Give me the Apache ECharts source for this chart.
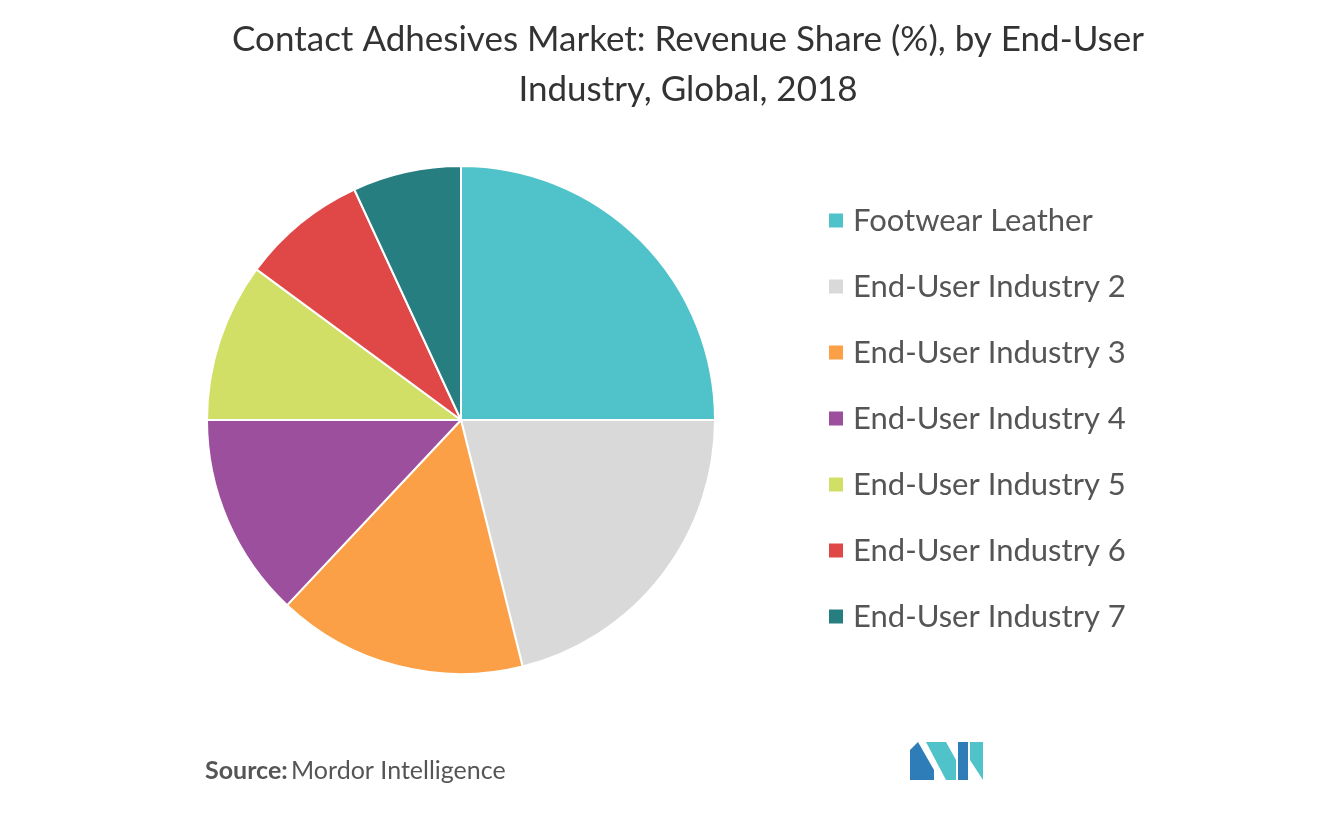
<!DOCTYPE html>
<html><head><meta charset="utf-8">
<script src="https://cdn.jsdelivr.net/npm/echarts@6/dist/echarts.min.js"></script>
<style>html,body{margin:0;background:#fff}#c{width:1322px;height:817px}</style>
</head><body><div id="c"></div>
<script>
const categories = ["Footwear Leather","End-User Industry 2","End-User Industry 3","End-User Industry 4","End-User Industry 5","End-User Industry 6","End-User Industry 7"];
const shares = [25.0, 21.1, 15.9, 13.0, 10.1, 8.0, 6.9];
const colors = ["#4FC3C9","#D9D9D9","#FBA046","#9B4F9D","#D1DF67","#E04848","#267E80"];
const chart = echarts.init(document.getElementById('c'));
chart.setOption({
  animation:false,
  color: colors,
  title:{text:"Contact Adhesives Market: Revenue Share (%), by End-User\nIndustry, Global, 2018",left:683,textAlign:'center',top:10,
    textStyle:{fontFamily:'Lato',fontWeight:'normal',fontSize:35,color:'#333',lineHeight:50}},
  legend:{orient:'vertical',left:822,top:200,itemWidth:16,itemHeight:16,itemGap:35,icon:'rect',
    textStyle:{fontFamily:'Lato',fontSize:31,color:'#555',padding:[0,0,0,4]},data:categories},
  graphic:[
    {type:'text',left:205,top:758,style:{rich:{b:{fontWeight:'bold',fontFamily:'Lato',fontSize:25,fill:'#555'},n:{fontFamily:'Lato',fontSize:25,fill:'#555'}},text:'{b|Source:} {n|Mordor Intelligence}'}},
    {type:'polygon',shape:{points:[[910,780],[910,750],[918,742],[934,770],[934,780]]},style:{fill:'#2E7DB8'}},
    {type:'polygon',shape:{points:[[926,742],[946,742],[956,760],[956,780],[946,780]]},style:{fill:'#4FC3C9'}},
    {type:'polygon',shape:{points:[[958,742],[968,742],[968,780],[958,780]]},style:{fill:'#2E7DB8'}},
    {type:'polygon',shape:{points:[[970,742],[983,742],[983,780],[970,760]]},style:{fill:'#4FC3C9'}}
  ],
  series:[{type:'pie',center:[461,420],radius:[0,254],startAngle:90,clockwise:true,
    label:{show:false},labelLine:{show:false},
    itemStyle:{borderColor:'#fff',borderWidth:2},
    data:categories.map((n,i)=>({name:n,value:shares[i]}))}]
});
</script></body></html>
